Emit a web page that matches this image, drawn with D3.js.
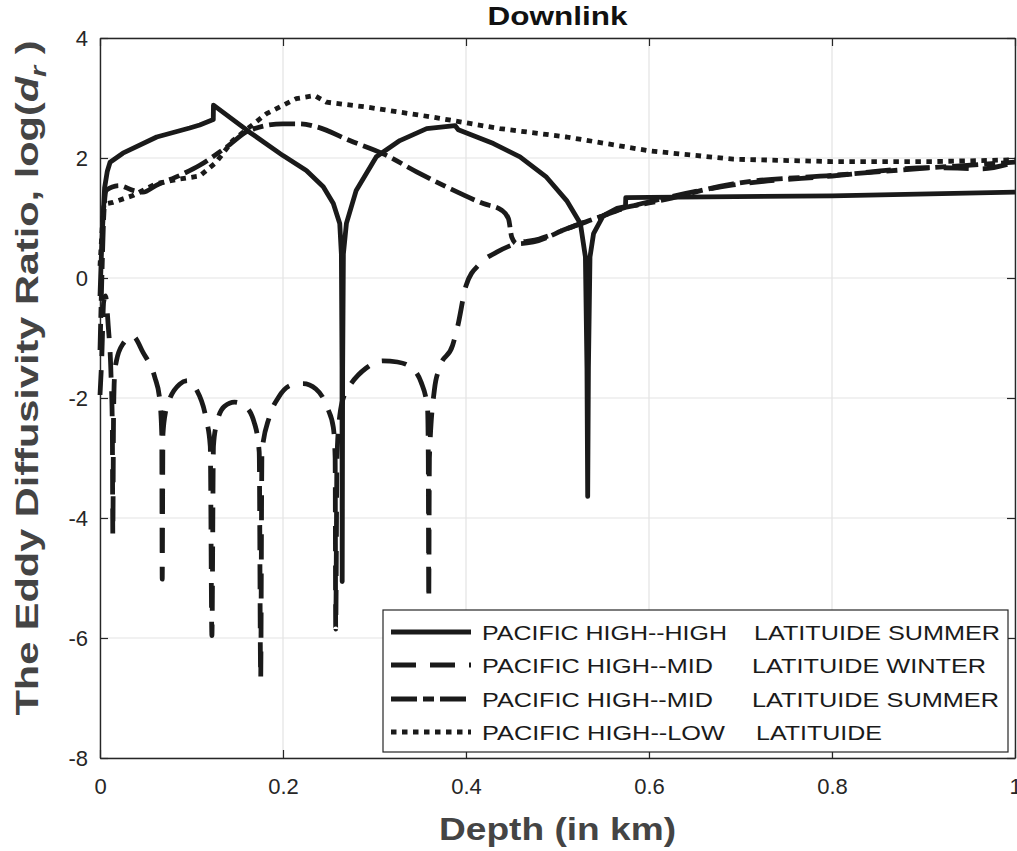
<!DOCTYPE html>
<html><head><meta charset="utf-8">
<script src="https://cdn.jsdelivr.net/npm/d3@7"></script>
<style>
body{margin:0;background:#fff}
text{font-family:"Liberation Sans",Arial,Helvetica,sans-serif}
</style>
</head><body>
<svg id="c" width="1017" height="851"></svg>
<script>
// ---------------- data ----------------
const xTicks = [0, 0.2, 0.4, 0.6, 0.8, 1];
const yTicks = [-8, -6, -4, -2, 0, 2, 4];
const xTickLabels = ["0", "0.2", "0.4", "0.6", "0.8", "1"];
const yTickLabels = ["-8", "-6", "-4", "-2", "0", "2", "4"];

const seriesNames = [
  ["PACIFIC HIGH--HIGH", "LATITUIDE SUMMER"],
  ["PACIFIC HIGH--MID", "LATITUIDE WINTER"],
  ["PACIFIC HIGH--MID", "LATITUIDE SUMMER"],
  ["PACIFIC HIGH--LOW", "LATITUIDE"]
];

// PACIFIC HIGH--HIGH LATITUIDE SUMMER (solid)
const highSummerDepth = [0, 0.002, 0.005, 0.008, 0.011, 0.025, 0.062, 0.098, 0.109, 0.1238, 0.124, 0.1635, 0.2, 0.2255, 0.244, 0.255, 0.262, 0.2638, 0.2645, 0.2647, 0.2652, 0.266, 0.2693, 0.28, 0.302, 0.3277, 0.357, 0.388, 0.3916, 0.43, 0.459, 0.488, 0.51, 0.525, 0.5305, 0.5322, 0.533, 0.5338, 0.5355, 0.5394, 0.55, 0.565, 0.5743, 0.5746, 0.6, 0.8, 1.0];
const highSummerLog   = [-0.3, 0.6, 1.5, 1.78, 1.93, 2.08, 2.35, 2.5, 2.55, 2.64, 2.88, 2.43, 2.04, 1.79, 1.52, 1.24, 0.91, 0.4, -1.5, -5.06, -1.5, 0.4, 0.91, 1.46, 2.02, 2.29, 2.49, 2.54, 2.47, 2.24, 2.02, 1.68, 1.29, 0.91, 0.35, -1.5, -3.64, -1.5, 0.35, 0.74, 1.04, 1.16, 1.19, 1.34, 1.345, 1.37, 1.43];

// PACIFIC HIGH--MID LATITUIDE WINTER (dashed)
const midWinterDepth = [0, 0.002, 0.004, 0.006, 0.009, 0.012, 0.0135, 0.014, 0.0148, 0.016, 0.018, 0.025, 0.036, 0.047, 0.06, 0.065, 0.0675, 0.068, 0.0688, 0.072, 0.076, 0.087, 0.096, 0.105, 0.116, 0.1205, 0.1223, 0.124, 0.127, 0.136, 0.147, 0.158, 0.169, 0.174, 0.1756, 0.177, 0.185, 0.195, 0.21, 0.222, 0.236, 0.249, 0.255, 0.257, 0.2576, 0.259, 0.262, 0.267, 0.2727, 0.291, 0.309, 0.325, 0.338, 0.351, 0.358, 0.3588, 0.3593, 0.360, 0.3655, 0.371, 0.3854, 0.391, 0.4, 0.4153, 0.4336, 0.4537, 0.48, 0.51, 0.5467, 0.575, 0.6, 0.692, 0.8, 0.911, 0.963, 1.0];
const midWinterLog   = [-1.95, -1.3, -0.4, -0.3, -0.8, -1.6, -2.5, -4.27, -2.3, -1.6, -1.38, -1.1, -0.97, -1.24, -1.66, -1.99, -2.6, -5.02, -2.6, -2.2, -2.02, -1.77, -1.71, -1.85, -2.35, -2.8, -5.96, -2.8, -2.46, -2.14, -2.07, -2.13, -2.43, -2.9, -6.68, -2.9, -2.32, -1.99, -1.78, -1.76, -1.85, -2.18, -2.49, -3.0, -5.85, -3.0, -2.3, -1.95, -1.8, -1.5, -1.38, -1.4, -1.47, -1.74, -2.18, -3.0, -5.36, -3.0, -1.86, -1.5, -1.12, -0.8, -0.13, 0.24, 0.43, 0.57, 0.65, 0.82, 1.02, 1.17, 1.27, 1.55, 1.70, 1.84, 1.82, 1.93];

// PACIFIC HIGH--MID LATITUIDE SUMMER (dash-dot)
const midSummerDepth = [0, 0.002, 0.004, 0.0067, 0.021, 0.036, 0.047, 0.061, 0.09, 0.109, 0.138, 0.1635, 0.2, 0.218, 0.2365, 0.273, 0.3095, 0.346, 0.3825, 0.419, 0.439, 0.4464, 0.45, 0.4555, 0.4737, 0.51, 0.5467, 0.575, 0.6, 0.692, 0.8, 0.911, 1.0];
const midSummerLog   = [-1.2, 0.0, 1.0, 1.46, 1.54, 1.46, 1.43, 1.54, 1.73, 1.88, 2.18, 2.46, 2.57, 2.57, 2.52, 2.29, 2.07, 1.77, 1.49, 1.24, 1.13, 0.99, 0.68, 0.57, 0.6, 0.82, 1.02, 1.18, 1.25, 1.57, 1.71, 1.84, 1.93];

// PACIFIC HIGH--LOW LATITUIDE (dotted)
const lowDepth = [0, 0.003, 0.0044, 0.014, 0.036, 0.061, 0.087, 0.109, 0.127, 0.145, 0.182, 0.2146, 0.2347, 0.2474, 0.291, 0.364, 0.437, 0.51, 0.565, 0.6, 0.692, 0.8, 0.91, 1.0];
const lowLog   = [0.2, 1.0, 1.23, 1.26, 1.375, 1.57, 1.65, 1.7, 1.93, 2.29, 2.74, 2.99, 3.04, 2.93, 2.85, 2.68, 2.49, 2.35, 2.21, 2.12, 1.98, 1.94, 1.94, 1.97];

// ---------------- chart ----------------
const svg = d3.select("#c");
const m = {l: 100, r: 1015, t: 38, b: 758};
const x = d3.scaleLinear().domain([0, 1]).range([m.l, m.r]);
const y = d3.scaleLinear().domain([-8, 4]).range([m.b, m.t]);
const axisColor = "#262626";
const inkColor = "#1a1a1a";

// grid
const g = svg.append("g");
g.selectAll("line.vx").data(xTicks).join("line")
  .attr("x1", d => x(d)).attr("x2", d => x(d)).attr("y1", m.t).attr("y2", m.b)
  .attr("stroke", "#e3e3e3").attr("stroke-width", 1.2);
g.selectAll("line.hy").data(yTicks).join("line")
  .attr("x1", m.l).attr("x2", m.r).attr("y1", d => y(d)).attr("y2", d => y(d))
  .attr("stroke", "#e3e3e3").attr("stroke-width", 1.2);

// axes
const xb = svg.append("g").attr("transform", `translate(0,${m.b})`)
  .call(d3.axisBottom(x).tickValues(xTicks).tickFormat((d, i) => xTickLabels[i]).tickSize(-8).tickPadding(20).tickSizeOuter(0));
const yl = svg.append("g").attr("transform", `translate(${m.l},0)`)
  .call(d3.axisLeft(y).tickValues(yTicks).tickFormat((d, i) => yTickLabels[i]).tickSize(-8).tickPadding(12).tickSizeOuter(0));
const xt = svg.append("g").attr("transform", `translate(0,${m.t})`)
  .call(d3.axisTop(x).tickValues(xTicks).tickFormat("").tickSize(-8).tickSizeOuter(0));
const yr = svg.append("g").attr("transform", `translate(${m.r},0)`)
  .call(d3.axisRight(y).tickValues(yTicks).tickFormat("").tickSize(-8).tickSizeOuter(0));
[xb, yl, xt, yr].forEach(a => {
  a.selectAll("path").attr("stroke", axisColor).attr("stroke-width", 1.4);
  a.selectAll("line").attr("stroke", axisColor).attr("stroke-width", 1.2);
  a.selectAll("text").attr("fill", axisColor).style("font-size", "22px")
    .style("font-family", '"Liberation Sans", Arial, sans-serif');
});

// series
const series = [
  {depth: highSummerDepth, val: highSummerLog, dash: null, curve: d3.curveLinear},
  {depth: midWinterDepth, val: midWinterLog, dash: "25,14", curve: d3.curveMonotoneX},
  {depth: midSummerDepth, val: midSummerLog, dash: "26,6,11,6", curve: d3.curveMonotoneX},
  {depth: lowDepth, val: lowLog, dash: "5.5,5.5", curve: d3.curveLinear}
];
const plot = svg.append("g");
series.forEach(s => {
  const pts = s.depth.map((d, i) => [d, s.val[i]]);
  const line = d3.line().x(d => x(d[0])).y(d => y(d[1])).curve(s.curve);
  plot.append("path").datum(pts).attr("d", line)
    .attr("fill", "none").attr("stroke", inkColor).attr("stroke-width", 4.8)
    .attr("stroke-linejoin", "round")
    .attr("stroke-dasharray", s.dash);
});

// legend
const lg = svg.append("g");
lg.append("rect").attr("x", 383).attr("y", 610).attr("width", 625).attr("height", 142)
  .attr("fill", "#fff").attr("stroke", axisColor).attr("stroke-width", 1.2);
const rowY = [632, 665, 699, 732];
const part1Len = [245, 231, 231, 243];
const part2X = [754, 752, 752, 756];
const part2Len = [246, 234, 247, 126];
series.forEach((s, i) => {
  lg.append("line").attr("x1", 391).attr("x2", 471).attr("y1", rowY[i]).attr("y2", rowY[i])
    .attr("stroke", inkColor).attr("stroke-width", 4.8).attr("stroke-dasharray", s.dash);
  lg.append("text").attr("x", 482).attr("y", rowY[i]).attr("dy", "0.36em")
    .attr("fill", inkColor).style("font-size", "21px")
    .attr("textLength", part1Len[i]).attr("lengthAdjust", "spacingAndGlyphs")
    .text(seriesNames[i][0]);
  lg.append("text").attr("x", part2X[i]).attr("y", rowY[i]).attr("dy", "0.36em")
    .attr("fill", inkColor).style("font-size", "21px")
    .attr("textLength", part2Len[i]).attr("lengthAdjust", "spacingAndGlyphs")
    .text(seriesNames[i][1]);
});

// title and labels
svg.append("text").attr("x", (m.l + m.r) / 2).attr("y", 25).attr("text-anchor", "middle")
  .style("font-size", "25px").style("font-weight", "bold").attr("fill", "#111")
  .attr("textLength", 140).attr("lengthAdjust", "spacingAndGlyphs").text("Downlink");
svg.append("text").attr("x", (m.l + m.r) / 2).attr("y", 840).attr("text-anchor", "middle")
  .style("font-size", "31px").style("font-weight", "bold").attr("fill", "#444")
  .attr("textLength", 237).attr("lengthAdjust", "spacingAndGlyphs").text("Depth (in km)");
const yt = svg.append("text").attr("transform", `translate(38,378) rotate(-90)`)
  .attr("text-anchor", "middle").style("font-size", "32px").style("font-weight", "bold").attr("fill", "#444")
  .attr("textLength", 675).attr("lengthAdjust", "spacingAndGlyphs");
yt.append("tspan").text("The Eddy Diffusivity Ratio, log(");
yt.append("tspan").style("font-style", "italic").text("d");
yt.append("tspan").style("font-style", "italic").style("font-size", "22px").attr("dy", 8).text("r");
yt.append("tspan").attr("dy", -8).text(" )");
</script>
</body></html>
